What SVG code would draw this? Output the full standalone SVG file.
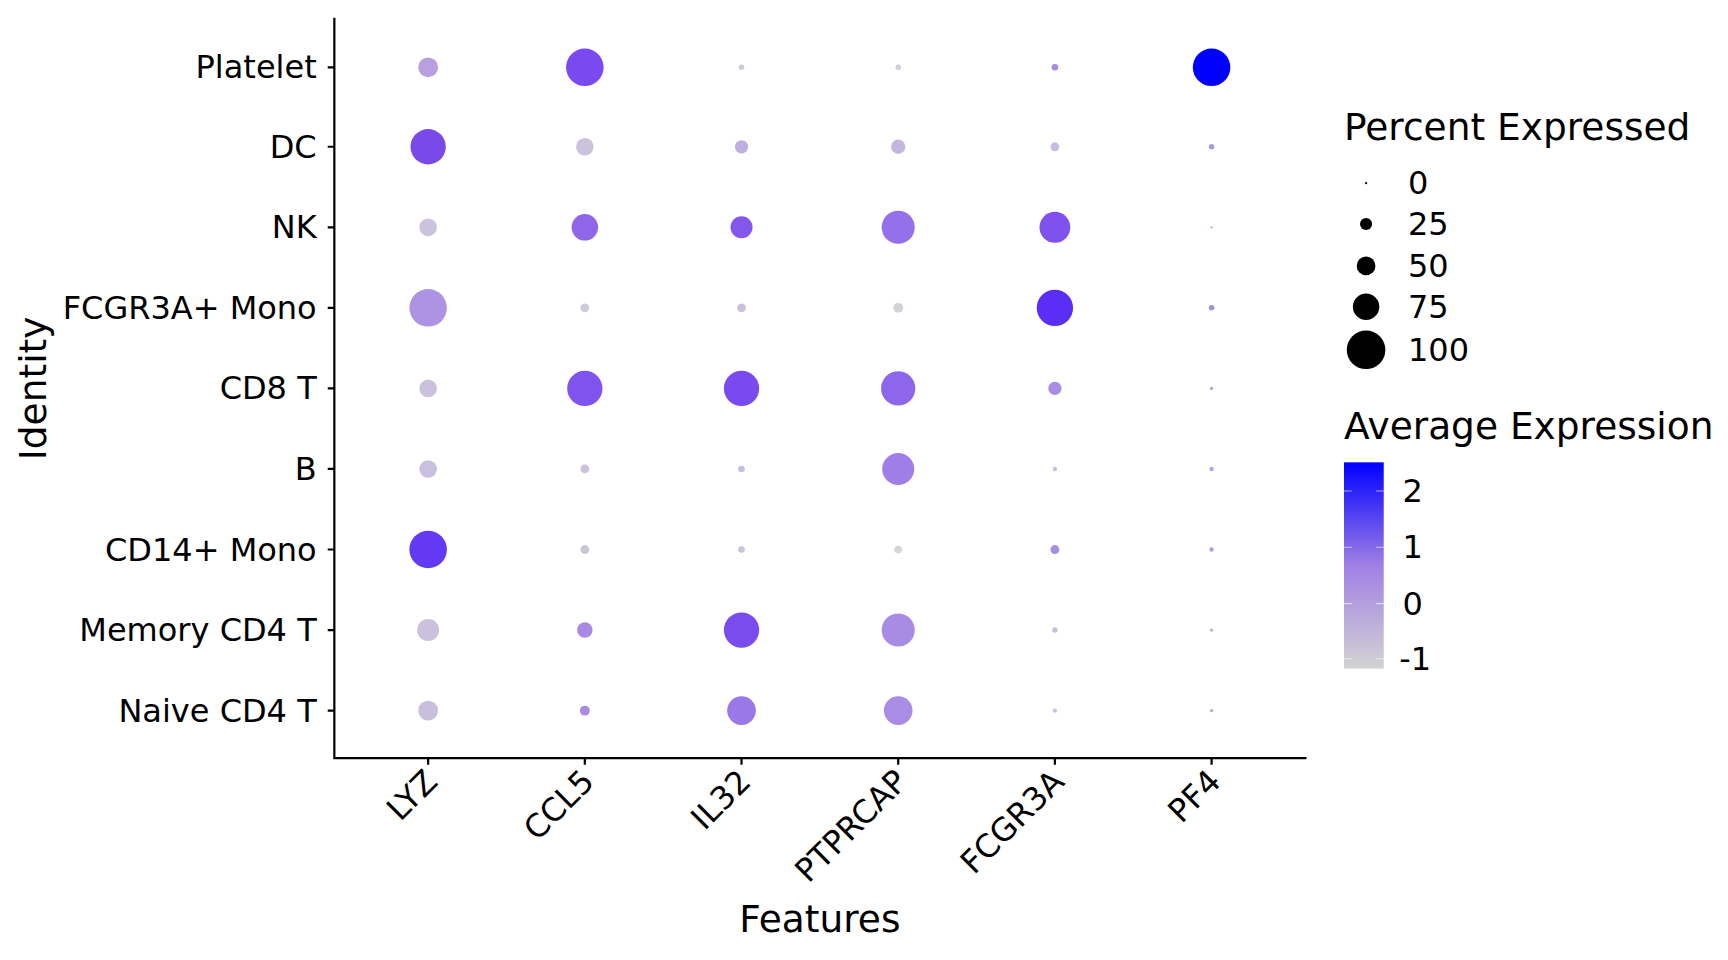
<svg xmlns="http://www.w3.org/2000/svg" width="1728" height="960" viewBox="0 0 1728 960">
<style>
text{font-family:"DejaVu Sans",sans-serif;fill:#000}
.yl{font-size:29px;text-anchor:end}
.xl{font-size:29px;text-anchor:end}
.t{font-size:34px}
.lg{font-size:29px}
.ax{stroke:#000;stroke-width:2;fill:none}
</style>
<defs><linearGradient id="cb" x1="0" y1="1" x2="0" y2="0"><stop offset="0" stop-color="#D3D3D3"/><stop offset="0.5" stop-color="#A080E4"/><stop offset="1" stop-color="#0000FF"/></linearGradient></defs>
<rect width="1728" height="960" fill="#fff"/>
<g transform="scale(1.10345)">
<g id="axes">
<path class="ax" d="M303 16V687H1184"/>
<path class="ax" d="M297 61H303M297 133H303M297 206H303M297 279H303M297 352H303M297 425H303M297 498H303M297 571H303M297 644H303"/>
<path class="ax" d="M388 687V693M530 687V693M672 687V693M814 687V693M956 687V693M1098 687V693"/>
<text class="yl" x="287" y="71">Platelet</text>
<text class="yl" x="287" y="143">DC</text>
<text class="yl" x="287" y="216">NK</text>
<text class="yl" x="287" y="289">FCGR3A+ Mono</text>
<text class="yl" x="287" y="362">CD8 T</text>
<text class="yl" x="287" y="435">B</text>
<text class="yl" x="287" y="508">CD14+ Mono</text>
<text class="yl" x="287" y="581">Memory CD4 T</text>
<text class="yl" x="287" y="654">Naive CD4 T</text>
<text class="xl" transform="translate(398,710) rotate(-45)">LYZ</text>
<text class="xl" transform="translate(540,710) rotate(-45)">CCL5</text>
<text class="xl" transform="translate(682,710) rotate(-45)">IL32</text>
<text class="xl" transform="translate(824,710) rotate(-45)">PTPRCAP</text>
<text class="xl" transform="translate(966,710) rotate(-45)">FCGR3A</text>
<text class="xl" transform="translate(1108,710) rotate(-45)">PF4</text>
<text class="t" x="743" y="845" text-anchor="middle">Features</text>
<text class="t" transform="translate(42,352) rotate(-90)" text-anchor="middle">Identity</text>
</g>
<g id="dots">
<circle cx="388" cy="61" r="9" fill="#b79fe0"/><circle cx="530" cy="61" r="17" fill="#7a4af0"/><circle cx="672" cy="61" r="2.5" fill="#cfcad8"/><circle cx="814" cy="61" r="2.5" fill="#d0ccd8"/><circle cx="956" cy="61" r="3" fill="#a98ce0"/><circle cx="1098" cy="61" r="17" fill="#0000ff"/>
<circle cx="388" cy="133" r="16" fill="#7a4ae8"/><circle cx="530" cy="133" r="8" fill="#cbc3dc"/><circle cx="672" cy="133" r="6" fill="#bfaee0"/><circle cx="814" cy="133" r="6.5" fill="#c4b5df"/><circle cx="956" cy="133" r="4" fill="#c8bde0"/><circle cx="1098" cy="133" r="2.5" fill="#a898e0"/>
<circle cx="388" cy="206" r="8" fill="#cbc3dd"/><circle cx="530" cy="206" r="12" fill="#8f65ea"/><circle cx="672" cy="206" r="10" fill="#8457ec"/><circle cx="814" cy="206" r="15" fill="#9470ea"/><circle cx="956" cy="206" r="14" fill="#7f52ee"/><circle cx="1098" cy="206" r="1" fill="#b0a0e0"/>
<circle cx="388" cy="279" r="17" fill="#ae92e3"/><circle cx="530" cy="279" r="4" fill="#d0cbd8"/><circle cx="672" cy="279" r="4" fill="#cac0dc"/><circle cx="814" cy="279" r="4.5" fill="#d3d1d5"/><circle cx="956" cy="279" r="16.5" fill="#5b2ef5"/><circle cx="1098" cy="279" r="2.5" fill="#a58fe0"/>
<circle cx="388" cy="352" r="8" fill="#cbc1dd"/><circle cx="530" cy="352" r="16" fill="#8052ee"/><circle cx="672" cy="352" r="16" fill="#7a4aef"/><circle cx="814" cy="352" r="15.5" fill="#8e66eb"/><circle cx="956" cy="352" r="6" fill="#a98ce3"/><circle cx="1098" cy="352" r="1.5" fill="#b0a0e0"/>
<circle cx="388" cy="425" r="8" fill="#c9bfde"/><circle cx="530" cy="425" r="4" fill="#cbc3dc"/><circle cx="672" cy="425" r="3" fill="#c8bde0"/><circle cx="814" cy="425" r="14.5" fill="#9f7ee8"/><circle cx="956" cy="425" r="2" fill="#c8c0dc"/><circle cx="1098" cy="425" r="2" fill="#b8a8e0"/>
<circle cx="388" cy="498" r="17" fill="#6339f4"/><circle cx="530" cy="498" r="4" fill="#ccc5da"/><circle cx="672" cy="498" r="3" fill="#cbc3dc"/><circle cx="814" cy="498" r="3.5" fill="#d6d6d6"/><circle cx="956" cy="498" r="4" fill="#a58de2"/><circle cx="1098" cy="498" r="2" fill="#b0a0e0"/>
<circle cx="388" cy="571" r="10" fill="#cbc1dd"/><circle cx="530" cy="571" r="7" fill="#a889e4"/><circle cx="672" cy="571" r="16" fill="#7a4bed"/><circle cx="814" cy="571" r="15" fill="#a88ce4"/><circle cx="956" cy="571" r="2.5" fill="#c8c0dc"/><circle cx="1098" cy="571" r="1.5" fill="#b8a8e0"/>
<circle cx="388" cy="644" r="9" fill="#c9bfdd"/><circle cx="530" cy="644" r="4.5" fill="#a98ce2"/><circle cx="672" cy="644" r="13" fill="#9a78e9"/><circle cx="814" cy="644" r="13" fill="#a98de4"/><circle cx="956" cy="644" r="2" fill="#c8c0dc"/><circle cx="1098" cy="644" r="1.5" fill="#b8a8e0"/>
</g>
<g id="legend-size">
<text class="t" x="1218" y="127">Percent Expressed</text>
<circle cx="1238" cy="166" r="1" fill="#000"/><circle cx="1238" cy="203" r="5.5" fill="#000"/><circle cx="1238" cy="241" r="8.5" fill="#000"/><circle cx="1238" cy="278" r="12" fill="#000"/><circle cx="1238" cy="317" r="17.5" fill="#000"/>
<text class="lg" x="1276" y="176">0</text><text class="lg" x="1276" y="213">25</text><text class="lg" x="1276" y="251">50</text><text class="lg" x="1276" y="288">75</text><text class="lg" x="1276" y="327">100</text>
</g>
<g id="legend-color">
<text class="t" x="1218" y="398">Average Expression</text>
<rect x="1218" y="419" width="36" height="187" fill="url(#cb)"/>
<path d="M1218 445H1225M1247 445H1254M1218 496H1225M1247 496H1254M1218 547H1225M1247 547H1254M1218 597H1225M1247 597H1254" stroke="#fff" stroke-opacity="0.6" stroke-width="1"/>
<text class="lg" x="1271" y="455">2</text><text class="lg" x="1271" y="506">1</text><text class="lg" x="1271" y="557">0</text><text class="lg" x="1268" y="607">-1</text>
</g>
</g>
</svg>
